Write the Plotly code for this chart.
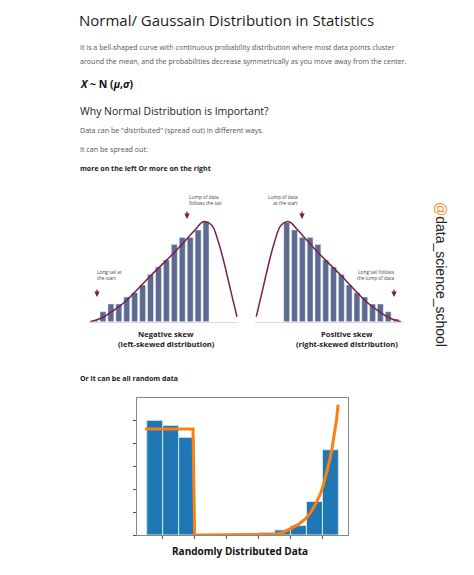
import plotly.graph_objects as go

W, H = 474, 575
PAD = 8  # page body margin around the plot div

# ---- negative skew histogram (peak bar = 100) ----
neg_bins = list(range(15))
neg_heights = [1.7, 10, 17.7, 17.7, 24.7, 29, 36.7, 47.3, 54.7, 61.7, 77.3, 84.3, 84.3, 91.7, 100]
neg_curve_x = [-0.63, 0.84, 2.1, 3.8, 7.1, 10.1, 12.6, 13.65, 14.7, 15.55, 16.4, 17.2, 17.9]
neg_curve_y = [0, 3.7, 10, 20, 46.7, 70, 91.7, 100, 96.7, 80, 55, 28, 5]

# ---- positive skew histogram ----
pos_bins = list(range(15))
pos_heights = [99.3, 91.7, 84.3, 84.3, 77.3, 61.7, 54.7, 47.3, 36.7, 29, 24.7, 17.7, 17.7, 10, 2.7]
pos_curve_x = [-3.9, -3.2, -2.4, -1.55, -0.7, 0.3, 1.4, 3.9, 6.9, 10.2, 11.9, 13.16, 14.63]
pos_curve_y = [5, 28, 55, 80, 96.7, 100, 91.7, 70, 46.7, 20, 10, 3.7, 0]

# ---- random data histogram ----
rand_bins = [0.5, 1.5, 2.5, 3.5, 4.5, 5.5, 6.5, 7.5, 8.5, 9.5, 10.5, 11.5]
rand_counts = [4.99, 4.77, 4.25, 0, 0, 0, 0, 0.12, 0.22, 0.41, 1.46, 3.71]
rand_fit_x = [-0.1, 2.9, 3.0, 7.5, 8.0, 8.5, 8.96, 9.5, 10.0, 10.3, 10.6, 10.85, 11.04,
              11.25, 11.46, 11.62, 11.77, 11.88, 11.98]
rand_fit_y = [4.61, 4.61, 0, 0, 0.03, 0.1, 0.26, 0.46, 0.74, 1.02, 1.39, 1.75, 2.12,
              2.65, 3.28, 3.85, 4.43, 5.0, 5.67]


def fx(px):
    return (px - PAD) / (W - 2 * PAD)


def fy(py):
    return 1 - (py - PAD) / (H - 2 * PAD)


BAR = "#5d6a91"
MAROON = "#7d1f48"
FONT = "Open Sans"

fig = go.Figure()

# left: negative skew
fig.add_trace(go.Bar(x=neg_bins, y=neg_heights, width=0.75, marker_color=BAR,
                     xaxis="x", yaxis="y", showlegend=False))
fig.add_trace(go.Scatter(x=neg_curve_x, y=neg_curve_y, mode="lines",
                         line=dict(color=MAROON, width=1.5, shape="spline"),
                         xaxis="x", yaxis="y", showlegend=False))

# right: positive skew
fig.add_trace(go.Bar(x=pos_bins, y=pos_heights, width=0.75, marker_color=BAR,
                     xaxis="x2", yaxis="y2", showlegend=False))
fig.add_trace(go.Scatter(x=pos_curve_x, y=pos_curve_y, mode="lines",
                         line=dict(color=MAROON, width=1.5, shape="spline"),
                         xaxis="x2", yaxis="y2", showlegend=False))

# bottom: random data
fig.add_trace(go.Bar(x=rand_bins, y=rand_counts, width=1, marker_color="#1f77b4",
                     marker_line=dict(color="#d6e6f4", width=1),
                     xaxis="x3", yaxis="y3", showlegend=False))
fig.add_trace(go.Scatter(x=rand_fit_x, y=rand_fit_y, mode="lines",
                         line=dict(color="#ff7f0e", width=3),
                         xaxis="x3", yaxis="y3", showlegend=False))

skew_x = dict(showgrid=False, zeroline=False, showticklabels=False, ticks="",
              showline=True, linecolor="#d9d9d9", linewidth=1)
skew_y = dict(showgrid=False, zeroline=False, showticklabels=False, ticks="",
              showline=False, range=[0, 131.7])

frame = dict(showgrid=False, zeroline=False, showticklabels=False, ticks="outside",
             ticklen=3, tickcolor="#555", showline=True, mirror=True,
             linecolor="#888", linewidth=1)

fig.update_layout(
    width=W - 2 * PAD, height=H - 2 * PAD,
    margin=dict(l=0, r=0, t=0, b=0),
    paper_bgcolor="white", plot_bgcolor="white",
    xaxis=dict(skew_x, domain=[fx(89), fx(238)], range=[-0.76, 18.03], anchor="y"),
    yaxis=dict(skew_y, domain=[fy(321.7), fy(190)], anchor="x"),
    xaxis2=dict(skew_x, domain=[fx(255), fx(403)], range=[-4.06, 14.9], anchor="y2"),
    yaxis2=dict(skew_y, domain=[fy(321.7), fy(190)], anchor="x2"),
    xaxis3=dict(frame, domain=[fx(136.7), fx(348)], range=[-0.625, 12.6],
                tickvals=[1, 3, 5, 7, 9, 11], anchor="y3"),
    yaxis3=dict(frame, domain=[fy(535), fy(398)], range=[0, 5.96], dtick=1, anchor="x3"),
    font=dict(family=FONT, color="#222"),
)


def txt(text, px, py, size, color="#222", anchor="left", bold=False, family=FONT, **kw):
    if bold:
        text = f"<b>{text}</b>"
    fig.add_annotation(text=text, x=fx(px), y=fy(py), xref="paper", yref="paper",
                       xanchor=anchor, yanchor="middle", showarrow=False,
                       font=dict(size=size, color=color, family=family), **kw)


# header texts
txt("Normal/ Gaussain Distribution in Statistics", 77, 20, 15, color="#1a1a1a")
txt("It is a bell-shaped curve with continuous probability distribution where most data points cluster",
    78, 47, 7.1, color="#555")
txt("around the mean, and the probabilities decrease symmetrically as you move away from the center.",
    78, 61, 7.1, color="#555")
txt("<i>X</i> ~ N (<i>μ</i>,<i>σ</i>)", 78, 84, 10.5, bold=True, color="#111")
txt("Why Normal Distribution is Important?", 78, 111, 10.5, color="#222")
txt('Data can be "distributed" (spread out) in different ways.', 78, 130, 7.1, color="#555")
txt("It can be spread out:", 78, 149, 7.1, color="#555")
txt("more on the left Or more on the right", 78, 168, 7.0, bold=True, color="#222")
txt("Or it can be all random data", 78, 378, 7.0, bold=True, color="#222")

# skew chart labels
txt("Negative skew", 166, 334, 7.6, anchor="center", bold=True, color="#222")
txt("(left-skewed distribution)", 166, 344, 7.6, anchor="center", bold=True, color="#222")
txt("Positive skew", 347, 334, 7.6, anchor="center", bold=True, color="#222")
txt("(right-skewed distribution)", 347, 344, 7.6, anchor="center", bold=True, color="#222")

txt("Lump of data<br>follows the tail", 187, 199.5, 4.8, color="#444", align="left")
txt("Long tail at<br>the start", 95, 275.3, 4.8, color="#444", align="left")
txt("Lump of data<br>at the start", 300, 199.5, 4.8, color="#444", anchor="right", align="right")
txt("Long tail follows<br>the lump of data", 397, 275.3, 4.8, color="#444", anchor="right", align="right")

# little arrows
for ax_px, tip_py in [(187, 219), (97, 297), (302, 219), (394, 297)]:
    fig.add_annotation(x=fx(ax_px), y=fy(tip_py), xref="paper", yref="paper",
                       ax=0, ay=-9, showarrow=True, arrowhead=2, arrowsize=0.9,
                       arrowwidth=1.2, arrowcolor=MAROON, text="")

txt("Randomly Distributed Data", 240, 551, 10, anchor="center", bold=True, color="#111")

# watermark
fig.add_annotation(text="<span style='color:#f08a24'>@</span>data_science_school",
                   x=fx(441), y=fy(274), xref="paper", yref="paper", showarrow=False,
                   textangle=90, xanchor="center", yanchor="middle",
                   font=dict(size=14, color="#222", family="Liberation Sans"))

fig.write_html("out.html")
